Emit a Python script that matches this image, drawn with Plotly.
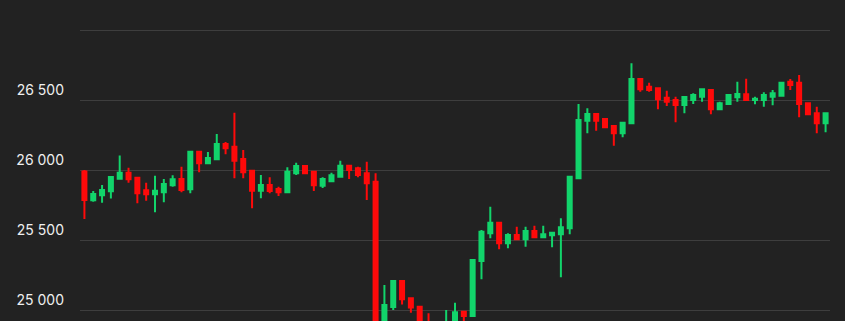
import plotly.graph_objects as go

opens = [25990, 25784, 25819, 25848, 25938, 25981, 25945, 25855, 25826, 25841,
         25891, 25936, 25862, 26131, 26048, 26076, 26186, 26166, 26079, 25995,
         25852, 25893, 25864, 25841, 25976, 26029, 25988, 25888, 25919, 25952,
         26031, 26012, 25976, 25916, 24843, 25021, 25207, 25084, 25024, 24871,
         24790, 24770, 24880, 24988, 24957, 25350, 25548, 25624, 25476, 25536,
         25505, 25564, 25519, 25534, 25541, 25584, 25941, 26352, 26400, 26364,
         26314, 26262, 26334, 26650, 26595, 26584, 26516, 26500, 26464, 26500,
         26524, 26571, 26434, 26471, 26519, 26541, 26500, 26500, 26524, 26531,
         26631, 26624, 26476, 26405, 26334]
highs = [26000, 25850, 25893, 25954, 26104, 26016, 25946, 25909, 25959, 25936,
         25962, 26024, 26138, 26138, 26129, 26257, 26200, 26409, 26143, 25996,
         25964, 25948, 25881, 26019, 26052, 26032, 25990, 25948, 25981, 26066,
         26033, 26024, 26059, 25976, 25179, 25210, 25210, 25086, 25027, 24976,
         24800, 25000, 25052, 24990, 25360, 25571, 25738, 25626, 25548, 25595,
         25595, 25602, 25602, 25552, 25655, 25954, 26471, 26441, 26402, 26366,
         26316, 26340, 26762, 26652, 26624, 26586, 26566, 26524, 26523, 26548,
         26584, 26573, 26488, 26543, 26631, 26652, 26524, 26555, 26571, 26631,
         26650, 26679, 26478, 26452, 26407]
lows = [25650, 25774, 25766, 25796, 25936, 25909, 25762, 25781, 25698, 25769,
        25881, 25841, 25834, 25984, 26046, 26071, 26112, 25941, 25941, 25726,
        25798, 25834, 25814, 25839, 25964, 25974, 25850, 25871, 25914, 25950,
        25936, 25948, 25786, 24786, 24814, 25000, 25039, 24981, 24814, 24743,
        24740, 24750, 24860, 24893, 24952, 25219, 25512, 25434, 25441, 25503,
        25452, 25517, 25517, 25448, 25234, 25541, 25939, 26262, 26281, 26303,
        26174, 26234, 26332, 26559, 26559, 26434, 26457, 26341, 26405, 26471,
        26488, 26398, 26432, 26469, 26488, 26498, 26469, 26452, 26462, 26524,
        26571, 26376, 26396, 26262, 26269]
closes = [25785, 25829, 25857, 25950, 25981, 25934, 25834, 25826, 25852, 25900,
          25934, 25857, 26131, 26048, 26086, 26186, 26155, 26066, 25984, 25852,
          25893, 25850, 25841, 25988, 26029, 25976, 25891, 25936, 25962, 26031,
          26000, 25964, 25905, 24821, 25036, 25207, 25076, 25018, 24857, 24786,
          24760, 24860, 24984, 24957, 25357, 25559, 25624, 25476, 25536, 25505,
          25564, 25519, 25541, 25552, 25591, 25952, 26357, 26400, 26352, 26305,
          26262, 26338, 26650, 26576, 26571, 26505, 26488, 26464, 26521, 26536,
          26576, 26434, 26476, 26536, 26543, 26500, 26509, 26536, 26548, 26624,
          26607, 26471, 26398, 26334, 26405]
x_index = list(range(len(opens)))

tick_values = [25000, 25500, 26000, 26500, 27000]
tick_labels = ["25 000", "25 500", "26 000", "26 500", ""]

fig = go.Figure(go.Candlestick(
    x=x_index, open=opens, high=highs, low=lows, close=closes,
    increasing=dict(line=dict(color="#12d46b", width=2), fillcolor="#12d46b"),
    decreasing=dict(line=dict(color="#ff0a0a", width=2), fillcolor="#ff0a0a"),
    whiskerwidth=0, hoverinfo="skip",
))

fig.update_layout(
    width=845, height=321,
    margin=dict(l=80, r=15, t=0, b=0),
    paper_bgcolor="#222222", plot_bgcolor="#222222",
    showlegend=False, boxgap=0.35,
    font=dict(family="Inter, Liberation Sans, sans-serif", size=14, color="#efefef"),
    xaxis=dict(range=[-0.5, len(opens) - 0.5], showgrid=False, zeroline=False,
               showticklabels=False, showline=False, rangeslider=dict(visible=False),
               fixedrange=True),
    yaxis=dict(range=[24921.4, 27214.3], tickvals=tick_values, ticktext=tick_labels,
               showgrid=True, gridcolor="#3e3e3e", gridwidth=1, zeroline=False,
               showline=False, ticks="", ticklabelposition="outside top",
               ticklabelstandoff=15, fixedrange=True),
)

fig.write_html("out.html")
